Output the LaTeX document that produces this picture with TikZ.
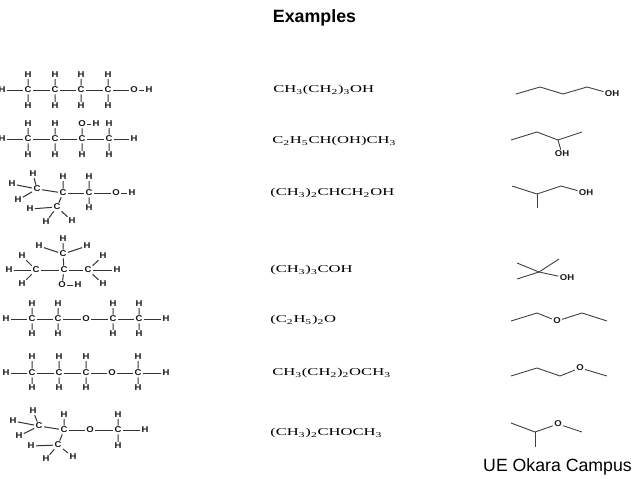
\documentclass[tikz,border=0pt]{standalone}
\usepackage{fontspec}
\setmainfont{Liberation Serif}
\setsansfont{Liberation Sans}
\newcommand{\lowidx}[1]{\textsubscript{#1}}
\newcommand{\atomlist}[1]{\foreach \n/\x/\y/\t in {#1}{\node[atom] (\n) at (\x,\y) {\t};}}
\newcommand{\jointlist}[1]{\foreach \n/\x/\y in {#1}{\coordinate (\n) at (\x,\y);}}
\newcommand{\bondlist}[1]{\foreach \a/\b in {#1}{\draw[bond] (\a)--(\b);}}
\newcommand{\formula}[3]{\node[formulatext] (f#1) at (#2) {#3};}
\tikzset{
  atom/.style={font=\sffamily\bfseries\fontsize{8.5}{9}\selectfont,inner sep=1.1pt,text=black!90,xscale=1.12},
  bond/.style={line width=1pt,black!80},
  skeleton/.style={line width=0.9pt,black!75,line join=round},
  formulatext/.style={font=\rmfamily\fontsize{10.5}{11}\selectfont,anchor=west,inner sep=0pt,text=black,xscale=1.58},
  heading/.style={font=\sffamily\bfseries\fontsize{17.8}{20}\selectfont,inner sep=0pt},
  campus/.style={font=\sffamily\fontsize{17.7}{20}\selectfont,inner sep=0pt}
}
\begin{document}
\begin{tikzpicture}[x=1pt,y=-1pt]
\useasboundingbox (0,0) rectangle (638,479);
\node[heading] (title) at (314.5,18) {Examples};
\node[campus] (ue) at (557.5,467) {UE Okara Campus};
\atomlist{ah0/2/90/H,ac1/28/90/C,ac2/55/90/C,ac3/81/90/C,ac4/108/90/C,ao/134/90/O,ahe/149/90/H,
  at1/28/75/H,at2/55/75/H,at3/81/75/H,at4/108/75/H,ab1/28/106/H,ab2/55/106/H,ab3/81/106/H,ab4/108/106/H}
\bondlist{ah0/ac1,ac1/ac2,ac2/ac3,ac3/ac4,ac4/ao,ao/ahe,at1/ac1,at2/ac2,at3/ac3,at4/ac4,ab1/ac1,ab2/ac2,ab3/ac3,ab4/ac4}
\atomlist{bh0/2/139/H,bc1/28/139/C,bc2/55/139/C,bc3/82/139/C,bc4/109/139/C,bhe/134/139/H,
  bt1/28/124/H,bt2/55/124/H,bo/82/124/O,boh/96/124/H,bt4/109/124/H,bb1/28/155/H,bb2/55/155/H,bb3/82/155/H,bb4/109/155/H}
\bondlist{bh0/bc1,bc1/bc2,bc2/bc3,bc3/bc4,bc4/bhe,bt1/bc1,bt2/bc2,bo/bc3,bo/boh,bt4/bc4,bb1/bc1,bb2/bc2,bb3/bc3,bb4/bc4}
\atomlist{cc1/37/189/C,cc2/63/193/C,cc3/89/193/C,cc4/57/207/C,co/116/193/O,che/132/193/H,
  ch1/33/174/H,ch2/12/184/H,ch3/18/200/H,ct2/63/177/H,ct3/89/177/H,cb3/89/208/H,ch4/30/209/H,ch5/46/222/H,ch6/72/221/H}
\bondlist{ch1/cc1,ch2/cc1,ch3/cc1,cc1/cc2,cc2/cc3,cc2/cc4,cc3/co,co/che,ct2/cc2,ct3/cc3,cb3/cc3,ch4/cc4,ch5/cc4,ch6/cc4}
\atomlist{dct/63/254/C,dcl/36/270/C,dcm/64/270/C,dcr/88/270/C,dh1/63/239/H,dh2/39/246/H,dh3/87/246/H,dh4/9/270/H,dh5/22/256/H,dh6/22/284/H,
  dh7/103/256/H,dh8/117/270/H,dh9/103/284/H,do/62/285/O,doh/78/285/H}
\bondlist{dh1/dct,dh2/dct,dh3/dct,dct/dcm,dh4/dcl,dh5/dcl,dh6/dcl,dcl/dcm,dcm/dcr,dcr/dh7,dcr/dh8,dcr/dh9,dcm/do,do/doh}
\atomlist{eh0/6/319/H,ec1/32/319/C,ec2/58/319/C,eo/86/319/O,ec3/113/319/C,ec4/139/319/C,ehe/166/319/H,
  et1/32/304/H,et2/58/304/H,et3/113/304/H,et4/139/304/H,eb1/32/334/H,eb2/58/334/H,eb3/113/334/H,eb4/139/334/H}
\bondlist{eh0/ec1,ec1/ec2,ec2/eo,eo/ec3,ec3/ec4,ec4/ehe,et1/ec1,et2/ec2,et3/ec3,et4/ec4,eb1/ec1,eb2/ec2,eb3/ec3,eb4/ec4}
\atomlist{fh0/6/373/H,fc1/32/373/C,fc2/59/373/C,fc3/86/373/C,fo/112/373/O,fc4/138/373/C,fhe/166/373/H,
  ft1/32/357/H,ft2/59/357/H,ft3/86/357/H,ft4/138/357/H,fb1/32/388/H,fb2/59/388/H,fb3/86/388/H,fb4/138/388/H}
\bondlist{fh0/fc1,fc1/fc2,fc2/fc3,fc3/fo,fo/fc4,fc4/fhe,ft1/fc1,ft2/fc2,ft3/fc3,ft4/fc4,fb1/fc1,fb2/fc2,fb3/fc3,fb4/fc4}
\atomlist{gc1/39/426/C,gc2/64/430/C,go/90/430/O,gc3/118/430/C,gc4/58/445/C,ghe/145/430/H,gh1/33/411/H,gh2/13/421/H,gh3/19/436/H,
  gt2/64/415/H,gt3/118/415/H,gb3/118/446/H,gh4/31/446/H,gh5/46/459/H,gh6/73/457/H}
\bondlist{gh1/gc1,gh2/gc1,gh3/gc1,gc1/gc2,gc2/go,go/gc3,gc3/ghe,gc2/gc4,gt2/gc2,gt3/gc3,gb3/gc3,gh4/gc4,gh5/gc4,gh6/gc4}
\formula{1}{273,90}{CH\lowidx{3}(CH\lowidx{2})\lowidx{3}OH}
\formula{2}{272,141}{C\lowidx{2}H\lowidx{5}CH(OH)CH\lowidx{3}}
\formula{3}{270,193}{(CH\lowidx{3})\lowidx{2}CHCH\lowidx{2}OH}
\formula{4}{270,270}{(CH\lowidx{3})\lowidx{3}COH}
\formula{5}{270,320}{(C\lowidx{2}H\lowidx{5})\lowidx{2}O}
\formula{6}{272,373}{CH\lowidx{3}(CH\lowidx{2})\lowidx{2}OCH\lowidx{3}}
\formula{7}{270,433}{(CH\lowidx{3})\lowidx{2}CHOCH\lowidx{3}}
\jointlist{p1/516/94,p2/540/87,p3/563/94,p4/587/87}
\atomlist{poh/612/94/OH}
\draw[skeleton] (p1)--(p2)--(p3)--(p4)--(poh);
\jointlist{q1/511/140,q2/537/132,q3/558/140,q4/582/132}
\atomlist{qoh/562/154/OH}
\draw[skeleton] (q1)--(q2)--(q3)--(q4);
\draw[skeleton] (q3)--(qoh);
\jointlist{r1/512/186,r2/537/194,r3/561/186,r4/537/208}
\atomlist{roh/586/193/OH}
\draw[skeleton] (r1)--(r2)--(r3)--(roh);
\draw[skeleton] (r2)--(r4);
\jointlist{s0/539/272,s1/517/263,s2/517/279,s3/559/259}
\atomlist{soh/567/278/OH}
\draw[skeleton] (s1)--(s0)--(soh);
\draw[skeleton] (s2)--(s0)--(s3);
\jointlist{t1/511/321,t2/537/313,t3/582/313,t4/607/321}
\atomlist{to/557/321/O}
\draw[skeleton] (t1)--(t2)--(to)--(t3)--(t4);
\jointlist{u1/511/376,u2/537/368,u3/560/376,u4/607/376}
\atomlist{uo/580/368/O}
\draw[skeleton] (u1)--(u2)--(u3)--(uo)--(u4);
\jointlist{v1/511/423,v2/535/432,v3/582/432,v4/535/447}
\atomlist{vo/558/424/O}
\draw[skeleton] (v1)--(v2)--(vo)--(v3);
\draw[skeleton] (v2)--(v4);
\end{tikzpicture}
\end{document}
